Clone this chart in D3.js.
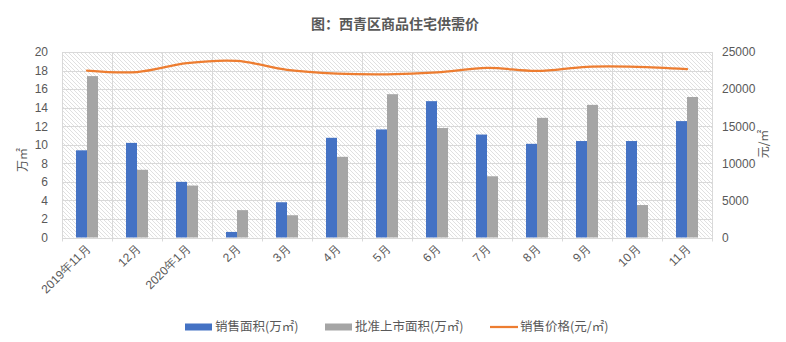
<!DOCTYPE html>
<html>
<head>
<meta charset="utf-8">
<script src="https://cdn.jsdelivr.net/npm/d3@7"></script>
<style>
  body { margin: 0; background: #fff; }
  svg { display: block; font-family: "Noto Sans CJK SC", "Open Sans", sans-serif; }
  .tick text { fill: #595959; font-size: 12px; }
</style>
</head>
<body>
<div id="chart"></div>
<script>
// Months on the category axis
const months = ["2019年11月", "12月", "2020年1月", "2月", "3月", "4月", "5月", "6月", "7月", "8月", "9月", "10月", "11月"];
// 销售面积 (万㎡)
const salesArea = [9.4, 10.2, 6.0, 0.6, 3.8, 10.75, 11.65, 14.7, 11.1, 10.1, 10.4, 10.4, 12.55];
// 批准上市面积 (万㎡)
const supplyArea = [17.4, 7.3, 5.6, 2.95, 2.4, 8.7, 15.45, 11.8, 6.6, 12.9, 14.3, 3.5, 15.15];
// 销售价格 (元/㎡)
const salesPrice = [22500, 22300, 23500, 23800, 22600, 22100, 22000, 22250, 22850, 22450, 23000, 23000, 22700];
const leftTicks = [0, 2, 4, 6, 8, 10, 12, 14, 16, 18, 20];
const rightTicks = [0, 5000, 10000, 15000, 20000, 25000];

const width = 786, height = 342;
const plot = { left: 62, right: 712, top: 52, bottom: 237.5 };

const svg = d3.select("#chart").append("svg").attr("width", width).attr("height", height);

// Excel-like diagonal hatch for the plot area
const defs = svg.append("defs");
const hatch = defs.append("pattern")
  .attr("id", "hatch")
  .attr("patternUnits", "userSpaceOnUse")
  .attr("width", 4).attr("height", 4);
hatch.append("rect").attr("width", 4).attr("height", 4).attr("fill", "#fff");
hatch.append("path")
  .attr("d", "M-1,-1 L5,5 M3,-1 L5,1 M-1,3 L1,5")
  .attr("stroke", "#e0e0e0").attr("stroke-width", 1);

svg.append("rect")
  .attr("x", plot.left).attr("y", plot.top)
  .attr("width", plot.right - plot.left).attr("height", plot.bottom - plot.top)
  .attr("fill", "url(#hatch)");

// Scales
const x = d3.scaleBand().domain(months).range([plot.left, plot.right]);
const x1 = d3.scaleBand().domain(["sales", "supply"]).range([0, x.bandwidth()]).paddingOuter(1.27);
const yL = d3.scaleLinear().domain([0, 20]).range([plot.bottom, plot.top]);
const yR = d3.scaleLinear().domain([0, 25000]).range([plot.bottom, plot.top]);

// Grid
const grid = svg.append("g").attr("stroke", "#d9d9d9").attr("stroke-width", 1);
grid.selectAll("line.h").data(leftTicks).join("line")
  .attr("class", "h")
  .attr("x1", plot.left).attr("x2", plot.right)
  .attr("y1", (d) => Math.round(yL(d)) + 0.5).attr("y2", (d) => Math.round(yL(d)) + 0.5);
const bounds = months.map((m) => x(m)).concat([plot.right]);
grid.selectAll("line.v").data(bounds).join("line")
  .attr("class", "v")
  .attr("x1", (d) => Math.round(d) + 0.5).attr("x2", (d) => Math.round(d) + 0.5)
  .attr("y1", plot.top).attr("y2", plot.bottom + 4);

// Bars
const groups = svg.append("g").selectAll("g").data(months).join("g")
  .attr("transform", (d) => `translate(${x(d)},0)`);
groups.append("rect")
  .attr("x", x1("sales")).attr("width", x1.bandwidth())
  .attr("y", (d, i) => yL(salesArea[i])).attr("height", (d, i) => yL(0) - yL(salesArea[i]))
  .attr("fill", "#4472C4");
groups.append("rect")
  .attr("x", x1("supply")).attr("width", x1.bandwidth())
  .attr("y", (d, i) => yL(supplyArea[i])).attr("height", (d, i) => yL(0) - yL(supplyArea[i]))
  .attr("fill", "#A5A5A5");

// Price line (smoothed like Excel)
const line = d3.line()
  .curve(d3.curveCatmullRom.alpha(0.5))
  .x((d, i) => x(months[i]) + x.bandwidth() / 2)
  .y((d) => yR(d));
svg.append("path")
  .datum(salesPrice)
  .attr("d", line)
  .attr("fill", "none")
  .attr("stroke", "#ED7D31")
  .attr("stroke-width", 2.25)
  .attr("stroke-linecap", "round");

// Axes
const leftAxis = svg.append("g")
  .attr("transform", `translate(${plot.left},0)`)
  .call(d3.axisLeft(yL).tickValues(leftTicks).tickSize(0).tickPadding(14));
leftAxis.select(".domain").remove();

const rightAxis = svg.append("g")
  .attr("transform", `translate(${plot.right},0)`)
  .call(d3.axisRight(yR).tickValues(rightTicks).tickFormat(d3.format("d")).tickSize(0).tickPadding(10));
rightAxis.select(".domain").remove();

const bottomAxis = svg.append("g")
  .attr("transform", `translate(0,${plot.bottom})`)
  .call(d3.axisBottom(x).tickSize(0).tickPadding(0));
bottomAxis.select(".domain").remove();
bottomAxis.selectAll(".tick text")
  .attr("text-anchor", "end")
  .attr("dy", null)
  .attr("transform", "translate(4,12) rotate(-45)");

// Axis titles
svg.append("text")
  .attr("transform", "translate(27,160) rotate(-90)")
  .attr("text-anchor", "middle")
  .attr("fill", "#595959").attr("font-size", 12)
  .text("万㎡");
svg.append("text")
  .attr("transform", "translate(768,144) rotate(-90)")
  .attr("text-anchor", "middle")
  .attr("fill", "#595959").attr("font-size", 12)
  .text("元/㎡");

// Title
svg.append("text")
  .attr("x", 395).attr("y", 29)
  .attr("text-anchor", "middle")
  .attr("fill", "#595959").attr("font-size", 14).attr("font-weight", "bold")
  .text("图：西青区商品住宅供需价");

// Legend
const legendItems = [
  { label: "销售面积(万㎡)", color: "#4472C4", type: "rect", x: 185 },
  { label: "批准上市面积(万㎡)", color: "#A5A5A5", type: "rect", x: 325 },
  { label: "销售价格(元/㎡)", color: "#ED7D31", type: "line", x: 490 },
];
const legend = svg.append("g").selectAll("g").data(legendItems).join("g")
  .attr("transform", (d) => `translate(${d.x},327)`);
legend.filter((d) => d.type === "rect").append("rect")
  .attr("x", 0).attr("y", -3.5).attr("width", 27).attr("height", 7)
  .attr("fill", (d) => d.color);
legend.filter((d) => d.type === "line").append("line")
  .attr("x1", 0).attr("x2", 28).attr("y1", 0).attr("y2", 0)
  .attr("stroke", (d) => d.color).attr("stroke-width", 2.25);
legend.append("text")
  .attr("x", 30).attr("y", 0).attr("dy", "0.35em")
  .attr("fill", "#595959").attr("font-size", 12.5)
  .text((d) => d.label);
</script>
</body>
</html>
